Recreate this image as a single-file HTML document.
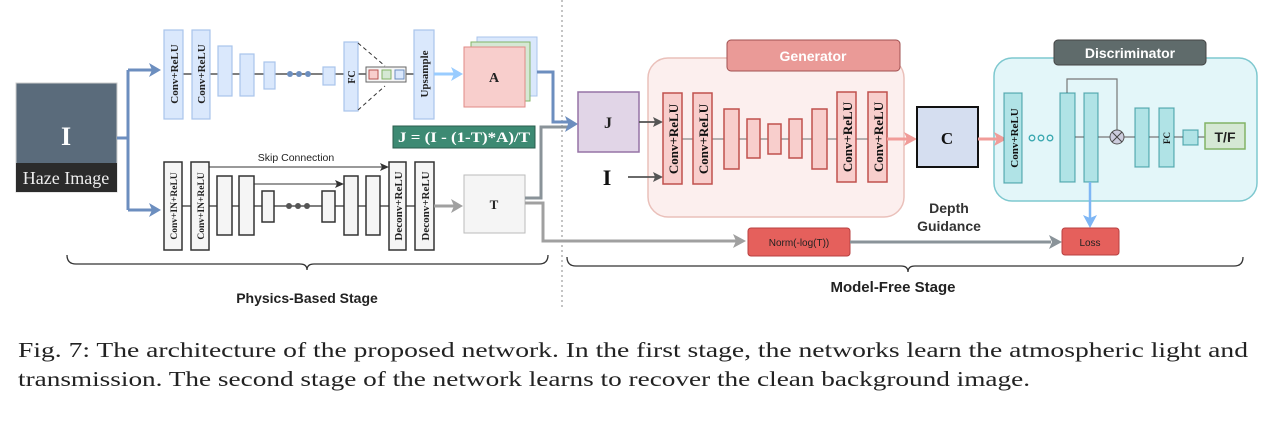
<!DOCTYPE html>
<html><head><meta charset="utf-8"><style>
body{margin:0;background:#fff;width:1268px;height:426px;overflow:hidden}
svg{display:block}
.sr{font-family:"Liberation Serif",serif;font-weight:bold}
.ss{font-family:"Liberation Sans",sans-serif;font-weight:bold}
</style></head><body>
<svg width="1268" height="426" viewBox="0 0 1268 426" xmlns="http://www.w3.org/2000/svg">

<!-- divider -->
<line x1="562" y1="0" x2="562" y2="310" stroke="#888" stroke-width="1" stroke-dasharray="2,3"/>

<!-- Haze image -->
<rect x="16" y="83" width="101" height="109" fill="#5a6b7b" stroke="#ccc"/>
<rect x="16" y="163" width="101" height="29" fill="#2b2b2b"/>
<text x="66" y="145" class="sr" font-size="26" fill="#fff" text-anchor="middle">I</text>
<text x="66" y="184" font-family="Liberation Serif,serif" font-size="18" fill="#eee" text-anchor="middle">Haze Image</text>

<!-- blue split -->
<path d="M117,138 H128 M128,70 V210 M128,70 H152 M128,210 H152" stroke="#6c8ebf" stroke-width="3" fill="none"/>
<polygon points="161,70 149,63 152,70 149,77" fill="#6c8ebf"/>
<polygon points="161,210 149,203 152,210 149,217" fill="#6c8ebf"/>

<!-- top branch -->
<line x1="183" y1="74" x2="414" y2="74" stroke="#333" stroke-width="1.2"/>
<g fill="#dae8fc" stroke="#a9c4eb" stroke-width="1.2">
<rect x="164" y="30" width="19" height="89"/>
<rect x="192" y="30" width="18" height="89"/>
<rect x="218" y="46" width="14" height="50"/>
<rect x="240" y="54" width="14" height="42"/>
<rect x="264" y="62" width="11" height="27"/>
<rect x="323" y="67" width="12" height="18"/>
<rect x="344" y="42" width="14" height="69"/>
<rect x="414" y="30" width="20" height="89"/>
</g>
<g fill="#6c8ebf"><circle cx="290" cy="74" r="3"/><circle cx="299" cy="74" r="3"/><circle cx="308" cy="74" r="3"/></g>
<text transform="translate(178,74) rotate(-90)" class="sr" font-size="11" text-anchor="middle" fill="#222">Conv+ReLU</text>
<text transform="translate(205,74) rotate(-90)" class="sr" font-size="11" text-anchor="middle" fill="#222">Conv+ReLU</text>
<text transform="translate(355,77) rotate(-90)" class="sr" font-size="10" text-anchor="middle" fill="#222">FC</text>
<text transform="translate(428,74) rotate(-90)" class="sr" font-size="11" text-anchor="middle" fill="#222">Upsample</text>
<path d="M358,43 L385,66 M358,110 L385,86" stroke="#333" stroke-dasharray="4,3" fill="none"/>
<rect x="366" y="67" width="40" height="15" fill="#f5f5f5" stroke="#666"/>
<rect x="369" y="70" width="9" height="9" fill="#f8cecc" stroke="#b85450"/>
<rect x="382" y="70" width="9" height="9" fill="#d5e8d4" stroke="#82b366"/>
<rect x="395" y="70" width="9" height="9" fill="#dae8fc" stroke="#6c8ebf"/>
<line x1="434" y1="74" x2="454" y2="74" stroke="#99ccff" stroke-width="3"/>
<polygon points="463,74 451,67 454,74 451,81" fill="#99ccff"/>
<rect x="477" y="37" width="60" height="59" fill="#dae8fc" stroke="#a9c4eb"/>
<rect x="471" y="42" width="59" height="59" fill="#d5e8d4" stroke="#82b366"/>
<rect x="464" y="47" width="61" height="60" fill="#f8cecc" stroke="#e08a86"/>
<text x="494" y="82" class="sr" font-size="14" text-anchor="middle" fill="#222">A</text>

<!-- formula -->
<rect x="393" y="126" width="142" height="22" fill="#3d8a73" stroke="#2a5c4c"/>
<text x="464" y="142" class="sr" font-size="15" fill="#fff" text-anchor="middle" textLength="132" lengthAdjust="spacingAndGlyphs">J = (I - (1-T)*A)/T</text>

<!-- bottom branch -->
<line x1="182" y1="206" x2="415" y2="206" stroke="#333" stroke-width="1.2"/>
<g fill="#f5f5f5" stroke="#333" stroke-width="1.5">
<rect x="164" y="162" width="18" height="88"/>
<rect x="191" y="162" width="18" height="88"/>
<rect x="217" y="176" width="15" height="59"/>
<rect x="239" y="176" width="15" height="59"/>
<rect x="262" y="191" width="12" height="31"/>
<rect x="322" y="191" width="13" height="31"/>
<rect x="344" y="176" width="14" height="59"/>
<rect x="366" y="176" width="14" height="59"/>
<rect x="389" y="162" width="17" height="88"/>
<rect x="415" y="162" width="19" height="88"/>
</g>
<g fill="#555"><circle cx="289" cy="206" r="3"/><circle cx="298" cy="206" r="3"/><circle cx="307" cy="206" r="3"/></g>
<text transform="translate(177,206) rotate(-90)" class="sr" font-size="9.5" text-anchor="middle" fill="#222">Conv+IN+ReLU</text>
<text transform="translate(204,206) rotate(-90)" class="sr" font-size="9.5" text-anchor="middle" fill="#222">Conv+IN+ReLU</text>
<text transform="translate(402,206) rotate(-90)" class="sr" font-size="11" text-anchor="middle" fill="#222">Deconv+ReLU</text>
<text transform="translate(429,206) rotate(-90)" class="sr" font-size="11" text-anchor="middle" fill="#222">Deconv+ReLU</text>
<text x="296" y="161" font-family="Liberation Sans,sans-serif" font-size="10.5" fill="#222" text-anchor="middle">Skip Connection</text>
<line x1="209" y1="167" x2="382" y2="167" stroke="#333"/>
<polygon points="389,167 380,163 382,167 380,171" fill="#333"/>
<line x1="254" y1="184" x2="337" y2="184" stroke="#333"/>
<polygon points="344,184 335,180 337,184 335,188" fill="#333"/>
<line x1="434" y1="206" x2="454" y2="206" stroke="#a0a0a0" stroke-width="3"/>
<polygon points="463,206 451,199 454,206 451,213" fill="#a0a0a0"/>
<rect x="464" y="175" width="61" height="58" fill="#f5f5f5" stroke="#bbb"/>
<text x="494" y="209" class="sr" font-size="13" text-anchor="middle" fill="#222">T</text>

<!-- connectors to J and Norm -->
<path d="M525,198 H541 V127 H568" stroke="#8a9399" stroke-width="3" fill="none"/>
<path d="M537,72 H553 V122 H568" stroke="#6c8ebf" stroke-width="3" fill="none"/>
<polygon points="578,124 565,116 568,124 565,132" fill="#6c8ebf"/>
<path d="M525,203 H543 V241 H736" stroke="#a0a0a0" stroke-width="3" fill="none"/>
<polygon points="746,241 733,234 736,241 733,248" fill="#a0a0a0"/>

<!-- left brace -->
<path d="M67,255 Q67,264 76,264 H300 Q307,264 307,270 Q307,264 314,264 H539 Q548,264 548,255" stroke="#333" stroke-width="1.3" fill="none"/>
<text x="307" y="303" class="ss" font-size="14" fill="#222" text-anchor="middle">Physics-Based Stage</text>

<!-- Generator -->
<rect x="648" y="58" width="256" height="159" rx="20" fill="#fcefee" stroke="#eac0ba" stroke-width="1.5"/>
<rect x="727" y="40" width="173" height="31" rx="4" fill="#ea9a97" stroke="#a05050"/>
<text x="813" y="61" class="ss" font-size="14" fill="#fff" text-anchor="middle">Generator</text>

<!-- J, I -->
<rect x="578" y="92" width="61" height="60" fill="#e1d5e7" stroke="#9673a6" stroke-width="1.5"/>
<text x="608" y="128" class="sr" font-size="16" text-anchor="middle" fill="#222">J</text>
<text x="607" y="185" class="sr" font-size="22" text-anchor="middle" fill="#111">I</text>
<line x1="639" y1="122" x2="655" y2="122" stroke="#555" stroke-width="1.8"/>
<polygon points="663,122 653,117 655,122 653,127" fill="#555"/>
<line x1="628" y1="177" x2="655" y2="177" stroke="#555" stroke-width="1.8"/>
<polygon points="663,177 653,172 655,177 653,182" fill="#555"/>

<line x1="682" y1="139" x2="868" y2="139" stroke="#888" stroke-width="1.2"/>
<g fill="#f8cecc" stroke="#c0504d" stroke-width="1.5">
<rect x="663" y="93" width="19" height="91"/>
<rect x="693" y="93" width="19" height="91"/>
<rect x="724" y="109" width="15" height="60"/>
<rect x="747" y="119" width="13" height="39"/>
<rect x="768" y="124" width="13" height="30"/>
<rect x="789" y="119" width="13" height="39"/>
<rect x="812" y="109" width="15" height="60"/>
<rect x="837" y="92" width="19" height="90"/>
<rect x="868" y="92" width="19" height="90"/>
</g>
<text transform="translate(678,139) rotate(-90)" class="sr" font-size="13" text-anchor="middle" fill="#111">Conv+ReLU</text>
<text transform="translate(708,139) rotate(-90)" class="sr" font-size="13" text-anchor="middle" fill="#111">Conv+ReLU</text>
<text transform="translate(852,137) rotate(-90)" class="sr" font-size="13" text-anchor="middle" fill="#111">Conv+ReLU</text>
<text transform="translate(883,137) rotate(-90)" class="sr" font-size="13" text-anchor="middle" fill="#111">Conv+ReLU</text>
<line x1="887" y1="139" x2="907" y2="139" stroke="#f19c99" stroke-width="3"/>
<polygon points="917,139 904,132 907,139 904,146" fill="#f19c99"/>

<!-- C -->
<rect x="917" y="107" width="61" height="60" fill="#d5def0" stroke="#111" stroke-width="2"/>
<text x="947" y="144" class="sr" font-size="17" text-anchor="middle" fill="#111">C</text>

<!-- Discriminator -->
<rect x="994" y="58" width="263" height="143" rx="18" fill="#e3f6f9" stroke="#7ec8cf" stroke-width="1.5"/>
<rect x="1054" y="40" width="152" height="25" rx="4" fill="#5f6b6b" stroke="#444"/>
<text x="1130" y="58" class="ss" font-size="14" fill="#fff" text-anchor="middle">Discriminator</text>
<line x1="978" y1="139" x2="997" y2="139" stroke="#f19c99" stroke-width="3"/>
<polygon points="1007,139 994,132 997,139 994,146" fill="#f19c99"/>
<line x1="1075" y1="137" x2="1205" y2="137" stroke="#777" stroke-width="1.2"/>
<path d="M1067,93 V79 H1117 V131" stroke="#777" stroke-width="1.2" fill="none"/>
<g fill="#b0e3e6" stroke="#0e8088" stroke-width="1.2" stroke-opacity="0.6">
<rect x="1004" y="93" width="18" height="90"/>
<rect x="1060" y="93" width="15" height="89"/>
<rect x="1084" y="93" width="14" height="89"/>
<rect x="1135" y="108" width="14" height="59"/>
<rect x="1159" y="108" width="15" height="59"/>
<rect x="1183" y="130" width="15" height="15"/>
</g>
<g fill="none" stroke="#3aa8b0" stroke-width="1.3"><circle cx="1032" cy="138" r="2.8"/><circle cx="1041" cy="138" r="2.8"/><circle cx="1050" cy="138" r="2.8"/></g>
<circle cx="1117" cy="137" r="7" fill="#ccd" stroke="#555"/>
<path d="M1112,132 L1122,142 M1122,132 L1112,142" stroke="#444"/>
<text transform="translate(1018,138) rotate(-90)" class="sr" font-size="11" text-anchor="middle" fill="#111">Conv+ReLU</text>
<text transform="translate(1170,138) rotate(-90)" class="sr" font-size="9" text-anchor="middle" fill="#111">FC</text>
<rect x="1205" y="123" width="40" height="26" fill="#d5e8d4" stroke="#82b366" stroke-width="1.5"/>
<text x="1225" y="142" class="ss" font-size="14" text-anchor="middle" fill="#222">T/F</text>
<line x1="1090" y1="182" x2="1090" y2="218" stroke="#7eb6f5" stroke-width="2.5"/>
<polygon points="1090,228 1083,215 1090,218 1097,215" fill="#7eb6f5"/>

<!-- Norm / Loss -->
<rect x="748" y="228" width="102" height="28" rx="3" fill="#e5605c" stroke="#b84040"/>
<text x="799" y="246" font-family="Liberation Sans,sans-serif" font-size="10" fill="#222" text-anchor="middle">Norm(-log(T))</text>
<line x1="850" y1="242" x2="1051" y2="242" stroke="#8a9399" stroke-width="3"/>
<polygon points="1062,242 1049,235 1052,242 1049,249" fill="#8a9399"/>
<rect x="1062" y="228" width="57" height="27" rx="3" fill="#e5605c" stroke="#b84040"/>
<text x="1090" y="246" font-family="Liberation Sans,sans-serif" font-size="10" fill="#222" text-anchor="middle">Loss</text>
<text x="949" y="213" class="ss" font-size="14" fill="#333" text-anchor="middle">Depth</text>
<text x="949" y="231" class="ss" font-size="14" fill="#333" text-anchor="middle">Guidance</text>

<!-- right brace -->
<path d="M567,257 Q567,266 576,266 H901 Q908,266 908,272 Q908,266 915,266 H1234 Q1243,266 1243,257" stroke="#333" stroke-width="1.3" fill="none"/>
<text x="893" y="292" class="ss" font-size="15" fill="#222" text-anchor="middle">Model-Free Stage</text>

<!-- caption -->
<text x="18" y="357" font-family="Liberation Serif,serif" font-size="21" fill="#222" textLength="1230" lengthAdjust="spacingAndGlyphs">Fig. 7: The architecture of the proposed network. In the first stage, the networks learn the atmospheric light and</text>
<text x="18" y="386" font-family="Liberation Serif,serif" font-size="21" fill="#222" textLength="1012" lengthAdjust="spacingAndGlyphs">transmission. The second stage of the network learns to recover the clean background image.</text>
</svg>
</body></html>
